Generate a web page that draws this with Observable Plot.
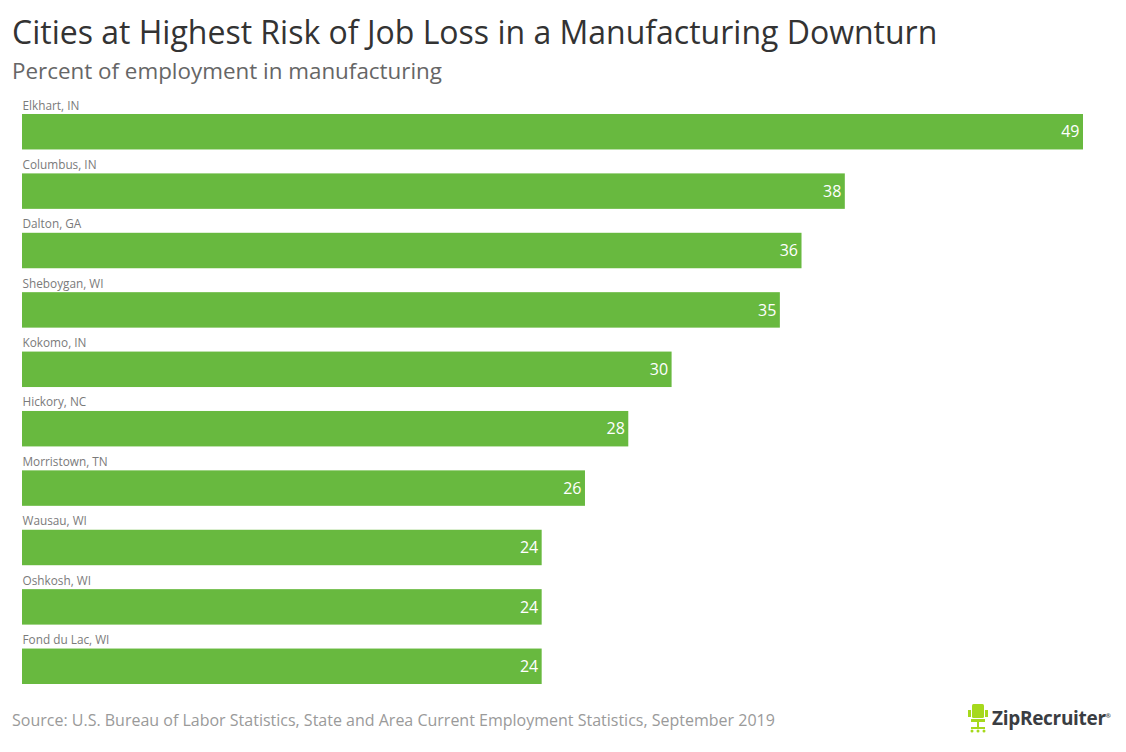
<!DOCTYPE html>
<html>
<head>
<meta charset="utf-8">
<script src="https://cdn.jsdelivr.net/npm/d3@7"></script>
<script src="https://cdn.jsdelivr.net/npm/@observablehq/plot@0.6"></script>
<style>
  html, body { margin: 0; padding: 0; background: #fff; }
  body { width: 1126px; height: 752px; position: relative; overflow: hidden; font-family: "Open Sans", sans-serif; }
  #title { position: absolute; left: 12px; top: 11px; font-size: 32px; color: #333; white-space: nowrap; line-height: 42px; }
  #subtitle { position: absolute; left: 12px; top: 55px; font-size: 22.4px; color: #666; white-space: nowrap; line-height: 32px; }
  #chart { position: absolute; left: 0; top: 95px; }
  #source { position: absolute; left: 12px; top: 708px; font-size: 16px; color: #9a9a9a; white-space: nowrap; line-height: 24px; }
  #logo { position: absolute; left: 968px; top: 703px; display: flex; align-items: center; }
  #logo span { font-family: "Open Sans", sans-serif; font-weight: 700; font-size: 19px; color: #3a3d42; letter-spacing: -0.3px; margin-left: 4px; }
  #logo sup { font-size: 6px; color: #3a3d42; }
</style>
</head>
<body>
<div id="title">Cities at Highest Risk of Job Loss in a Manufacturing Downturn</div>
<div id="subtitle">Percent of employment in manufacturing</div>
<div id="chart"></div>
<div id="source">Source: U.S. Bureau of Labor Statistics, State and Area Current Employment Statistics, September 2019</div>
<div id="logo">
  <svg width="20" height="30" viewBox="0 0 20 30">
    <rect x="4" y="1" width="12" height="14" rx="1.5" fill="#a6d91c"/>
    <rect x="0" y="7" width="3" height="7" fill="#a6d91c"/>
    <rect x="17" y="7" width="3" height="7" fill="#a6d91c"/>
    <rect x="3" y="16" width="14" height="3" fill="#a6d91c"/>
    <rect x="9" y="19" width="2" height="5" fill="#a6d91c"/>
    <rect x="3" y="24" width="14" height="2" fill="#a6d91c"/>
    <circle cx="4" cy="28" r="1.5" fill="#a6d91c"/>
    <circle cx="10" cy="28" r="1.5" fill="#a6d91c"/>
    <circle cx="16" cy="28" r="1.5" fill="#a6d91c"/>
  </svg>
  <span>ZipRecruiter<sup>®</sup></span>
</div>
<script>
const cities = ["Elkhart, IN", "Columbus, IN", "Dalton, GA", "Sheboygan, WI", "Kokomo, IN",
  "Hickory, NC", "Morristown, TN", "Wausau, WI", "Oshkosh, WI", "Fond du Lac, WI"];
const shares = [49, 38, 36, 35, 30, 28, 26, 24, 24, 24];

const data = cities.map((city, i) => ({city, value: shares[i]}));

const chart = Plot.plot({
  width: 1126,
  height: 595,
  marginTop: 19,
  marginBottom: 6,
  marginLeft: 22,
  marginRight: 43,
  style: {fontFamily: "Open Sans, sans-serif", background: "transparent"},
  x: {domain: [0, 49], axis: null},
  y: {domain: cities, axis: null, paddingInner: 0.403, paddingOuter: 0, round: false},
  marks: [
    Plot.barX(data, {x: "value", y: "city", fill: "#68b93f"}),
    Plot.text(data, {x: 0, y: "city", text: "city", textAnchor: "start", dx: 0, dy: -26.5, fontSize: 11.8, fill: "#7a7a7a"}),
    Plot.text(data, {x: "value", y: "city", text: d => String(d.value), textAnchor: "end", dx: -4, fontSize: 16, fill: "#fff"})
  ]
});
document.getElementById("chart").appendChild(chart);
</script>
</body>
</html>
